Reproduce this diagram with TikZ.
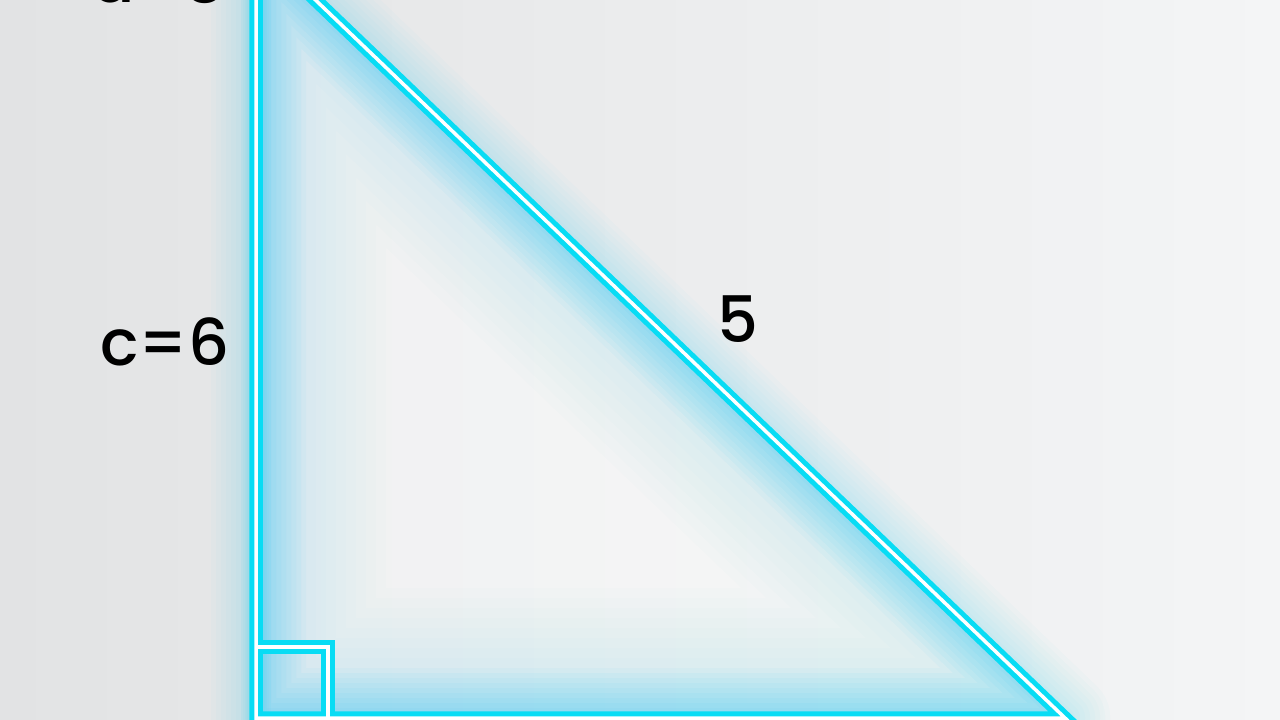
\documentclass[tikz,border=0pt]{standalone}
\usepackage{fontspec}
\setmainfont{Poppins}[UprightFont=* Medium]
\definecolor{neon}{RGB}{8,220,244}
\definecolor{glowc}{RGB}{30,214,240}
\definecolor{bgl}{RGB}{226,227,228}
\definecolor{bgr}{RGB}{244,245,246}
\begin{document}
\begin{tikzpicture}[x=1pt,y=-1pt,
  lbl/.style={font=\fontsize{64}{70}\selectfont, text=black, inner sep=0pt},
  neonout/.style={draw=neon, line width=13.5pt, line join=miter},
  neonin/.style={draw=white, line width=3.5pt, line join=miter},
  glow/.style={draw=glowc, line join=round, line cap=round}]
\useasboundingbox (0,0) rectangle (1280,720);
\clip (0,0) rectangle (1280,720);
\shade[left color=bgl, right color=bgr] (0,0) rectangle (1280,720);
\coordinate (A) at (256,-57);
\coordinate (B) at (256,718);
\coordinate (C) at (1065,718);
\coordinate (M1) at (256,647);
\coordinate (M2) at (328,647);
\coordinate (M3) at (328,718);
% inner glow
\begin{scope}
  \clip (A) -- (B) -- (C) -- cycle;
  \fill[white, opacity=0.45] (A) -- (B) -- (C) -- cycle;
  \foreach \w in {260,240,...,100}
    \draw[glow, line width=\w pt, opacity=0.011] (A) -- (B) -- (C) -- cycle;
  \foreach \w in {100,90,...,20}
    \draw[glow, line width=\w pt, opacity=0.022] (A) -- (B) -- (C) -- cycle;
\end{scope}
% outer glow
\foreach \w in {90,80,...,20}
  \draw[glow, line width=\w pt, opacity=0.022] (A) -- (B) -- (C) -- cycle;
\foreach \w in {30,26,...,18}
  \draw[glow, line width=\w pt, opacity=0.05] (A) -- (B);
% neon lines
\draw[neonout] (A) -- (B) -- (C) -- cycle;
\draw[neonout] (M1) -- (M2) -- (M3);
\draw[neonin] (A) -- (B) -- (C) -- cycle;
\draw[neonin] (M1) -- (M2) -- (M3);
% labels
\node[lbl] (c6) at (165,342) {c=6};
\node[lbl] (five) at (738,319) {5};
\node[lbl, anchor=base] (top) at (158,2) {a=8};
\end{tikzpicture}
\end{document}
